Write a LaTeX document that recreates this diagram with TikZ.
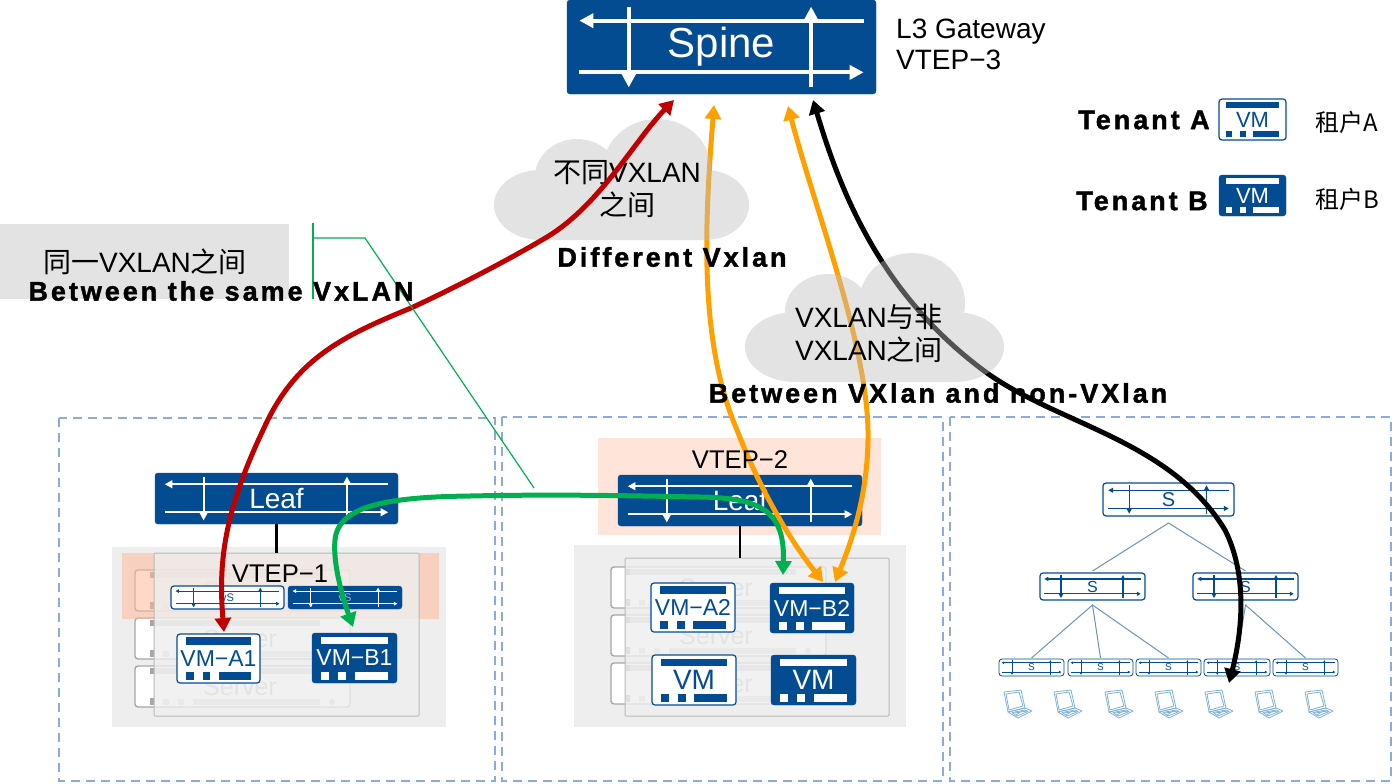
\documentclass[tikz,border=0pt]{standalone}
\usepackage{fontspec}
\setmainfont{Liberation Sans}
\newfontfamily\cjk{Noto Sans CJK SC}
\newfontfamily\wideb[LetterSpace=11,FakeBold=1.5]{Liberation Sans Bold}
\usetikzlibrary{arrows.meta,calc}
\definecolor{hwblue}{HTML}{034C92}
\definecolor{dashblue}{HTML}{8EA9DB}
\definecolor{bggray}{HTML}{EEEEEE}
\definecolor{cloudgray}{gray}{0.75}
\definecolor{hwred}{HTML}{C00000}
\definecolor{hworange}{HTML}{FF9F00}
\definecolor{hwgreen}{HTML}{00B050}
\definecolor{lapblue}{HTML}{7FB2D9}
\newcommand{\fs}[1]{\fontsize{#1}{#1}\selectfont}
\tikzset{
  swA/.style={draw=hwblue,fill=white,text=hwblue,line width=1.2pt},
  swB/.style={draw=hwblue,fill=hwblue,text=white},
  zone/.style={dash pattern=on 9pt off 6pt,draw=dashblue,line width=1.6pt},
  flowtwo/.style={line width=5pt,{Triangle[width=16pt,length=14pt]}-{Triangle[width=16pt,length=14pt]}},
  txt/.style={inner sep=0pt,align=center,font=\fs{28}},
  boldtxt/.style={inner sep=0pt,font=\wideb\fs{27}},
  srvbox/.style={draw=gray!70,line width=1.4pt,rounded corners=3pt,fill=white},
  stackbg/.style={fill=bggray},
  innerbox/.style={draw=gray!55,line width=1pt,fill=bggray,fill opacity=.8,rounded corners=1pt},
  treeline/.style={draw=hwblue!60,line width=1pt},
}
% switch icon: style, line colour, name, x1,y1,x2,y2, label
\newcommand{\swi}[8]{%
  \pgfmathsetmacro\wv{#6-#4}\pgfmathsetmacro\hv{#7-#5}%
  \pgfmathsetmacro\lwv{0.042*\hv}\pgfmathsetmacro\tipv{0.15*\hv}%
  \node[#1,rounded corners=3pt,minimum width=\wv pt,minimum height=\hv pt,inner sep=0pt,outer sep=0pt] (#3) at ({(#4+#6)/2},{(#5+#7)/2}) {#8};
  \begin{scope}[shift={(#4,#5)},x=\wv pt,y=-\hv pt,#2,line width=\lwv pt,
     >={Triangle[width=\tipv pt,length=\tipv pt]}]
    \draw[->] (.96,.22) -- (.04,.22);
    \draw[->] (.04,.77) -- (.96,.77);
    \draw[->] (.2,.07) -- (.2,.93);
    \draw[->] (.79,.93) -- (.79,.07);
  \end{scope}}
% VM icon: style, bar colour, name, x1,y1,x2,y2, font size, label
\newcommand{\vmi}[9]{%
  \pgfmathsetmacro\wv{#6-#4}\pgfmathsetmacro\hv{#7-#5}%
  \node[#1,rounded corners=3pt,minimum width=\wv pt,minimum height=\hv pt,inner sep=0pt,outer sep=0pt,font=\fs{#8}] (#3) at ({(#4+#6)/2},{(#5+#7)/2}) {};
  \begin{scope}[shift={(#4,#5)},x=\wv pt,y=-\hv pt]
    \fill[#2] (.11,.07) rectangle (.89,.22);
    \fill[#2] (.11,.77) rectangle (.2,.93);
    \fill[#2] (.31,.77) rectangle (.4,.93);
    \fill[#2] (.5,.77) rectangle (.89,.93);
  \end{scope}
  \node[inner sep=0pt,font=\fs{#8},text=#2] at (#3.center) {#9};}
% server: x,y (top-left)
\newcommand{\srv}[3]{%
  \begin{scope}[shift={(#1,#2)}]
    \draw[srvbox] (0,0) rectangle (215,41);
    \fill[gray!40] (15,2) rectangle (185,8);
    \fill[gray!70] (15,2) rectangle (19,8);
    \fill[gray!70] (15,32) rectangle (19,39);
    \fill[gray!30] (28,33) rectangle (34,39);
    \fill[gray!30] (43,33) rectangle (49,39);
    \fill[gray!30] (58,33) rectangle (185,39);
    \fill[gray!40] (197,36) circle (3);
    \node[inner sep=0pt,font=\fs{25},text=gray!55] (#3) at (105,21) {Server};
  \end{scope}}
\newcommand{\lap}[1]{%
  \begin{scope}[shift={(#1,690)},lapblue,line width=.8pt,line join=round]
    \draw (0,2) -- (17,0) -- (21,18) -- (4,22) -- cycle;
    \draw (2,4) -- (15,2) -- (19,16) -- (5,20) -- cycle;
    \draw (4,22) -- (21,18) -- (28,21) -- (14,28) -- cycle;
    \draw (8,22.5) -- (21,20) -- (24,21.5) -- (13,26) -- cycle;
    \draw (10,23) -- (23,21) (12,25) -- (18,21);
  \end{scope}}
\begin{document}
\begin{tikzpicture}[x=1pt,y=-1pt]
\useasboundingbox (0,0) rectangle (1392,784);
% zones
\draw[zone] (59,418) rectangle (495,781);
\draw[zone] (502,417) rectangle (943,781);
\draw[zone] (950,417) rectangle (1391,781);
% label box
\node[fill=gray!22,minimum width=289pt,minimum height=75pt,inner sep=0pt,outer sep=0pt] (samebox) at (144.5,261.5) {};
\node[txt] (sameCn) at (145,262) {{\cjk 同一}VXLAN{\cjk 之间}};
% stack 1
\fill[stackbg] (112,547) rectangle (446,727);
\srv{135}{570}{srvA}
\srv{135}{618}{srvB}
\srv{135}{666}{srvC}
\fill[orange!60!red!40,fill opacity=.55] (122,553) rectangle (439,619);
\node[innerbox,minimum width=265pt,minimum height=163pt,inner sep=0pt,outer sep=0pt] (innerA) at (286.5,634.5) {};
% stack 2
\fill[fill=orange!60!red!15] (598,438) rectangle (881,535);
\fill[stackbg] (574,545) rectangle (906,727);
\srv{611}{567}{srvD}
\srv{611}{615}{srvE}
\srv{611}{663}{srvF}
\node[innerbox,minimum width=264pt,minimum height=158pt,inner sep=0pt,outer sep=0pt] (innerB) at (757,637) {};
% switches
\swi{swB,font=\fs{42}}{white}{spine}{567}{0}{876}{94}{Spine}
\swi{swB,font=\fs{28}}{white}{leafA}{155}{473}{398}{524}{Leaf}
\swi{swB,font=\fs{28}}{white}{leafB}{618}{475}{862}{526}{Leaf}
\swi{swA,font=\fs{11}}{hwblue}{vsA}{171}{586}{284}{609}{vS}
\swi{swB,font=\fs{11},text=hwblue!40}{white}{vsB}{288}{586}{402}{609}{vS}
\draw[black,line width=2.4pt] (leafA.south) -- (leafA.south |- innerA.north);
\draw[black,line width=2.4pt] (leafB.south) -- (leafB.south |- innerB.north);
% VMs
\vmi{swA}{hwblue}{vmAone}{177}{634}{260}{683}{23}{VM−A1}
\vmi{swB}{white}{vmBone}{312}{633}{397}{683}{23}{VM−B1}
\vmi{swA}{hwblue}{vmAtwo}{651}{583}{735}{632}{23}{VM−A2}
\vmi{swB}{white}{vmBtwo}{770}{583}{854}{633}{23}{VM−B2}
\vmi{swA}{hwblue}{vmAthree}{652}{655}{736}{705}{28}{VM}
\vmi{swB}{white}{vmBthree}{771}{655}{856}{705}{28}{VM}
\vmi{swA}{hwblue}{legA}{1219}{99}{1286}{140}{22}{VM}
\vmi{swB}{white}{legB}{1219}{175}{1286}{216}{22}{VM}
% tree
\swi{swA,font=\fs{20}}{hwblue}{sTop}{1103}{483}{1234}{516}{S}
\swi{swA,font=\fs{16}}{hwblue}{sMidA}{1040}{573}{1145}{600}{S}
\swi{swA,font=\fs{16}}{hwblue}{sMidB}{1193}{573}{1298}{600}{S}
\swi{swA,font=\fs{10},line width=.8pt}{hwblue}{sLowA}{999}{659}{1064}{676}{S}
\swi{swA,font=\fs{10},line width=.8pt}{hwblue}{sLowB}{1068}{659}{1133}{676}{S}
\swi{swA,font=\fs{10},line width=.8pt}{hwblue}{sLowC}{1136}{659}{1201}{676}{S}
\swi{swA,font=\fs{10},line width=.8pt}{hwblue}{sLowD}{1204}{659}{1270}{676}{S}
\swi{swA,font=\fs{10},line width=.8pt}{hwblue}{sLowE}{1273}{659}{1338}{676}{S}
\coordinate (topJ) at ([yshift=-7pt]sTop.south);
\coordinate (midAJ) at ([yshift=-5pt]sMidA.south);
\coordinate (midBJ) at ([yshift=-5pt]sMidB.south);
\draw[treeline] ([yshift=2pt]sMidA.north) -- (topJ) -- ([yshift=2pt]sMidB.north);
\draw[treeline] ([yshift=1pt]sLowA.north) -- (midAJ) -- ([yshift=1pt]sLowB.north);
\draw[treeline] (midAJ) -- ([yshift=1pt]sLowC.north);
\draw[treeline] ([yshift=1pt]sLowD.north) -- (midBJ) -- ([yshift=1pt]sLowE.north);
\lap{1004}\lap{1054}\lap{1105}\lap{1155}\lap{1205}\lap{1255}\lap{1305}
% flow end points
\coordinate (redTop) at (674,100);
\coordinate (redEnd) at (224,632);
\coordinate (orOneTop) at (714,105);
\coordinate (orOneEnd) at (823,582);
\coordinate (orTwoTop) at (788,106);
\coordinate (orTwoEnd) at (835,582);
\coordinate (blackTop) at (813,100);
\coordinate (blackEnd) at (1229,683);
\coordinate (greenA) at (353,627);
\coordinate (greenB) at (783,575);
% orange + black (under the clouds)
\draw[flowtwo,hworange] (orOneTop) .. controls (705,220) and (698,340) .. (737,430) .. controls (760,490) and (790,540) .. (orOneEnd);
\draw[flowtwo,hworange] (orTwoTop) .. controls (815,210) and (870,350) .. (868,440) .. controls (867,500) and (850,545) .. (orTwoEnd);
\draw[flowtwo,black] (blackTop) .. controls (840,190) and (880,295) .. (987,373) .. controls (1060,425) and (1170,440) .. (1225,530) .. controls (1250,580) and (1240,640) .. (blackEnd);
% clouds
\begin{scope}[transparency group,opacity=.44]
\fill[cloudgray] (540,205) ellipse (46 and 35);
\fill[cloudgray] (705,205) ellipse (44 and 35);
\fill[cloudgray] (577,177) ellipse (42 and 38);
\fill[cloudgray] (657,169) ellipse (54 and 50);
\fill[cloudgray] (540,190) rectangle (705,240);
\end{scope}
\begin{scope}[transparency group,opacity=.44]
\fill[cloudgray] (795,347) ellipse (50 and 35);
\fill[cloudgray] (955,347) ellipse (49 and 35);
\fill[cloudgray] (828,312) ellipse (43 and 38);
\fill[cloudgray] (912,303) ellipse (53 and 50);
\fill[cloudgray] (795,330) rectangle (955,382);
\end{scope}
% texts
\node[txt] (diffCn) at (627,189) {{\cjk 不同}VXLAN\\[5pt]{\cjk 之间}};
\node[txt] (mixCn) at (869,333) {VXLAN{\cjk 与非}\\[5pt]VXLAN{\cjk 之间}};
\node[txt,font=\fs{25.6}] (vtepA) at (280,574) {VTEP−1};
\node[txt,font=\fs{25.6}] (vtepB) at (740,460) {VTEP−2};
\node[txt,anchor=west,font=\fs{28},align=left] (l3) at (896,44) {L3 Gateway\\[3pt]VTEP−3};
\node[txt,font=\cjk\fs{24}] (tenantCnA) at (1347,122) {租户A};
\node[txt,font=\cjk\fs{24}] (tenantCnB) at (1347,199) {租户B};
% red, green and the callout
\draw[flowtwo,hwred] (redTop) .. controls (635,140) and (600,205) .. (547,237) .. controls (505,262) and (450,290) .. (411,308) .. controls (340,337) and (295,360) .. (264,428) .. controls (225,510) and (218,560) .. (redEnd);
\draw[flowtwo,hwgreen] (greenA) .. controls (340,590) and (333,560) .. (335,540) .. controls (338,505) and (390,497) .. (470,496) .. controls (560,494) and (640,496) .. (700,497) .. controls (760,498) and (785,510) .. (greenB);
\coordinate (brTop) at (313,223);
\coordinate (brBot) at (313,299);
\coordinate (brMid) at (313,238);
\coordinate (brElbow) at (365,238);
\coordinate (brEnd) at (534,488);
\draw[hwgreen,line width=1.2pt] (brTop) -- (brBot);
\draw[hwgreen,line width=1.2pt] (brMid) -- (brElbow) -- (brEnd);
\node[boldtxt] (sameEn) at (221,291) {Between the same VxLAN};
\node[boldtxt] (diffEn) at (672,257) {Different Vxlan};
\node[boldtxt] (mixEn) at (938,393) {Between VXlan and non-VXlan};
\node[boldtxt] (tenA) at (1144,120) {Tenant A};
\node[boldtxt] (tenB) at (1142,201) {Tenant B};
\end{tikzpicture}
\end{document}
